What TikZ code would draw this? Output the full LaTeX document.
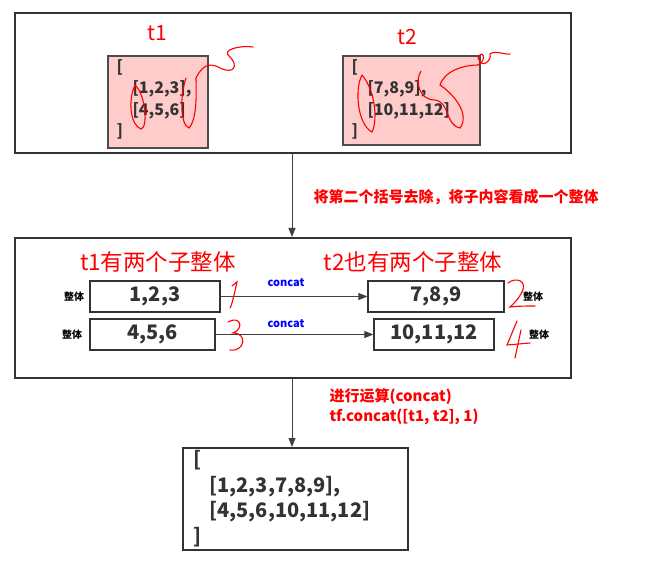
\documentclass[tikz,border=0pt]{standalone}
\usepackage{fontspec}
\setmainfont{Noto Sans CJK SC}
\usetikzlibrary{arrows.meta}
\begin{document}
\begin{tikzpicture}[x=1pt,y=-1pt,
  frame/.style={draw=black!80,line width=1.2pt},
  pink/.style={draw=black!70,line width=1.2pt,fill=red!20},
  sub/.style={draw=black!80,line width=1.2pt,font=\fontsize{20}{22}\selectfont\bfseries,text=black!80},
  arr/.style={-{Triangle[length=9pt,width=7pt]},draw=black!75,line width=1pt},
  red/.style={text=red},
  hand/.style={draw=red,line width=1.1pt,line cap=round},
  mono/.style={font=\fontsize{16}{21.5}\selectfont\bfseries,text=black!80,align=left,anchor=north west}]
\useasboundingbox (0,0) rectangle (650,585);
% top
\draw[frame] (15,13) rectangle (571,153);
\coordinate (topb) at (292,153);
\node[red,font=\fontsize{21}{22}\selectfont] (t1) at (157,33) {t1};
\node[red,font=\fontsize{21}{22}\selectfont] (t2) at (407,37) {t2};
\draw[pink] (108,56) rectangle (208,148);
\draw[pink] (343,56) rectangle (480,145);
\node[mono] (a) at (113,56) {[\\\hspace*{1em}[1,2,3],\\\hspace*{1em}[4,5,6]\\]};
\node[mono] (b) at (348,56) {[\\\hspace*{1em}[7,8,9],\\\hspace*{1em}[10,11,12]\\]};
% handwriting top
\draw[hand] (135,85) .. controls (128,100) and (130,125) .. (141,129) .. controls (148,128) and (146,95) .. (135,85);
\draw[hand] (186,78) .. controls (180,95) and (180,125) .. (189,128) .. controls (198,118) and (196,88) .. (196,78) .. controls (200,70) and (207,60) .. (220,68) .. controls (235,75) and (238,65) .. (230,57) .. controls (220,50) and (240,45) .. (253,47);
\draw[hand] (362,75) .. controls (354,90) and (358,125) .. (372,132) .. controls (378,120) and (375,90) .. (362,75);
\draw[hand] (421,71) .. controls (415,80) and (418,100) .. (435,100) .. controls (450,102) and (445,125) .. (460,128) .. controls (470,115) and (455,95) .. (440,85) .. controls (445,70) and (465,65) .. (478,65) .. controls (488,60) and (482,48) .. (478,58) .. controls (482,70) and (492,60) .. (490,54) .. controls (495,50) and (505,55) .. (510,54);
% arrow 1
\node[red,font=\fontsize{15}{17}\selectfont\bfseries,anchor=west] (l1) at (310,197) {将第二个括号去除，将子内容看成一个整体};
\draw[arr] (topb) -- (292,237);
% middle
\draw[frame] (15,238) rectangle (571,378);
\node[red,font=\fontsize{22.5}{24}\selectfont] (h1) at (158,262) {t1有两个子整体};
\node[red,font=\fontsize{22.5}{24}\selectfont] (h2) at (413,262) {t2也有两个子整体};
\node[sub,minimum width=130pt,minimum height=31pt] (s1) at (155,296.5) {1,2,3};
\node[sub,minimum width=136pt,minimum height=31pt] (s2) at (436,296.5) {7,8,9};
\node[sub,minimum width=125pt,minimum height=31pt] (s3) at (152.5,334.5) {4,5,6};
\node[sub,minimum width=120pt,minimum height=31pt] (s4) at (434,334.5) {10,11,12};
\node[font=\fontsize{10}{11}\selectfont\bfseries] (w1) at (74,297) {整体};
\node[font=\fontsize{10}{11}\selectfont\bfseries] (w2) at (533,297) {整体};
\node[font=\fontsize{10}{11}\selectfont\bfseries] (w3) at (72,335) {整体};
\node[font=\fontsize{10}{11}\selectfont\bfseries] (w4) at (539,335) {整体};
\draw[arr] (s1) -- (s2);
\draw[arr] (s3) -- (s4);
\node[text=blue,font=\fontsize{11}{12}\selectfont\bfseries] (c1) at (286,283) {concat};
\node[text=blue,font=\fontsize{11}{12}\selectfont\bfseries] (c2) at (286,324) {concat};
% handwritten numbers
\draw[hand] (232,286) -- (237,282) .. controls (234,295) and (232,305) .. (230,308);
\draw[hand] (508,283) .. controls (515,277) and (528,280) .. (522,292) .. controls (518,300) and (512,305) .. (510,307) .. controls (518,306) and (528,306) .. (535,306);
\draw[hand] (228,322) .. controls (240,315) and (245,328) .. (233,333) .. controls (248,333) and (245,352) .. (230,350);
\draw[hand] (517,321) -- (507,345) -- (530,343);
\draw[hand] (521,330) -- (515,358);
% arrow 2
\draw[arr] (292,378) -- (292,447);
\node[red,font=\fontsize{15}{17}\selectfont\bfseries,anchor=west] (l2) at (326,397) {进行运算(concat)};
\node[red,font=\fontsize{15}{17}\selectfont\bfseries,anchor=west] (l3) at (326,417) {tf.concat([t1, t2], 1)};
% bottom
\draw[frame] (183,448) rectangle (408,550);
\node[font=\fontsize{20}{25.5}\selectfont\bfseries,text=black!80,align=left,anchor=north west] (res) at (190,447) {[\\\hspace*{0.8em}[1,2,3,7,8,9],\\\hspace*{0.8em}[4,5,6,10,11,12]\\]};
\end{tikzpicture}
\end{document}
